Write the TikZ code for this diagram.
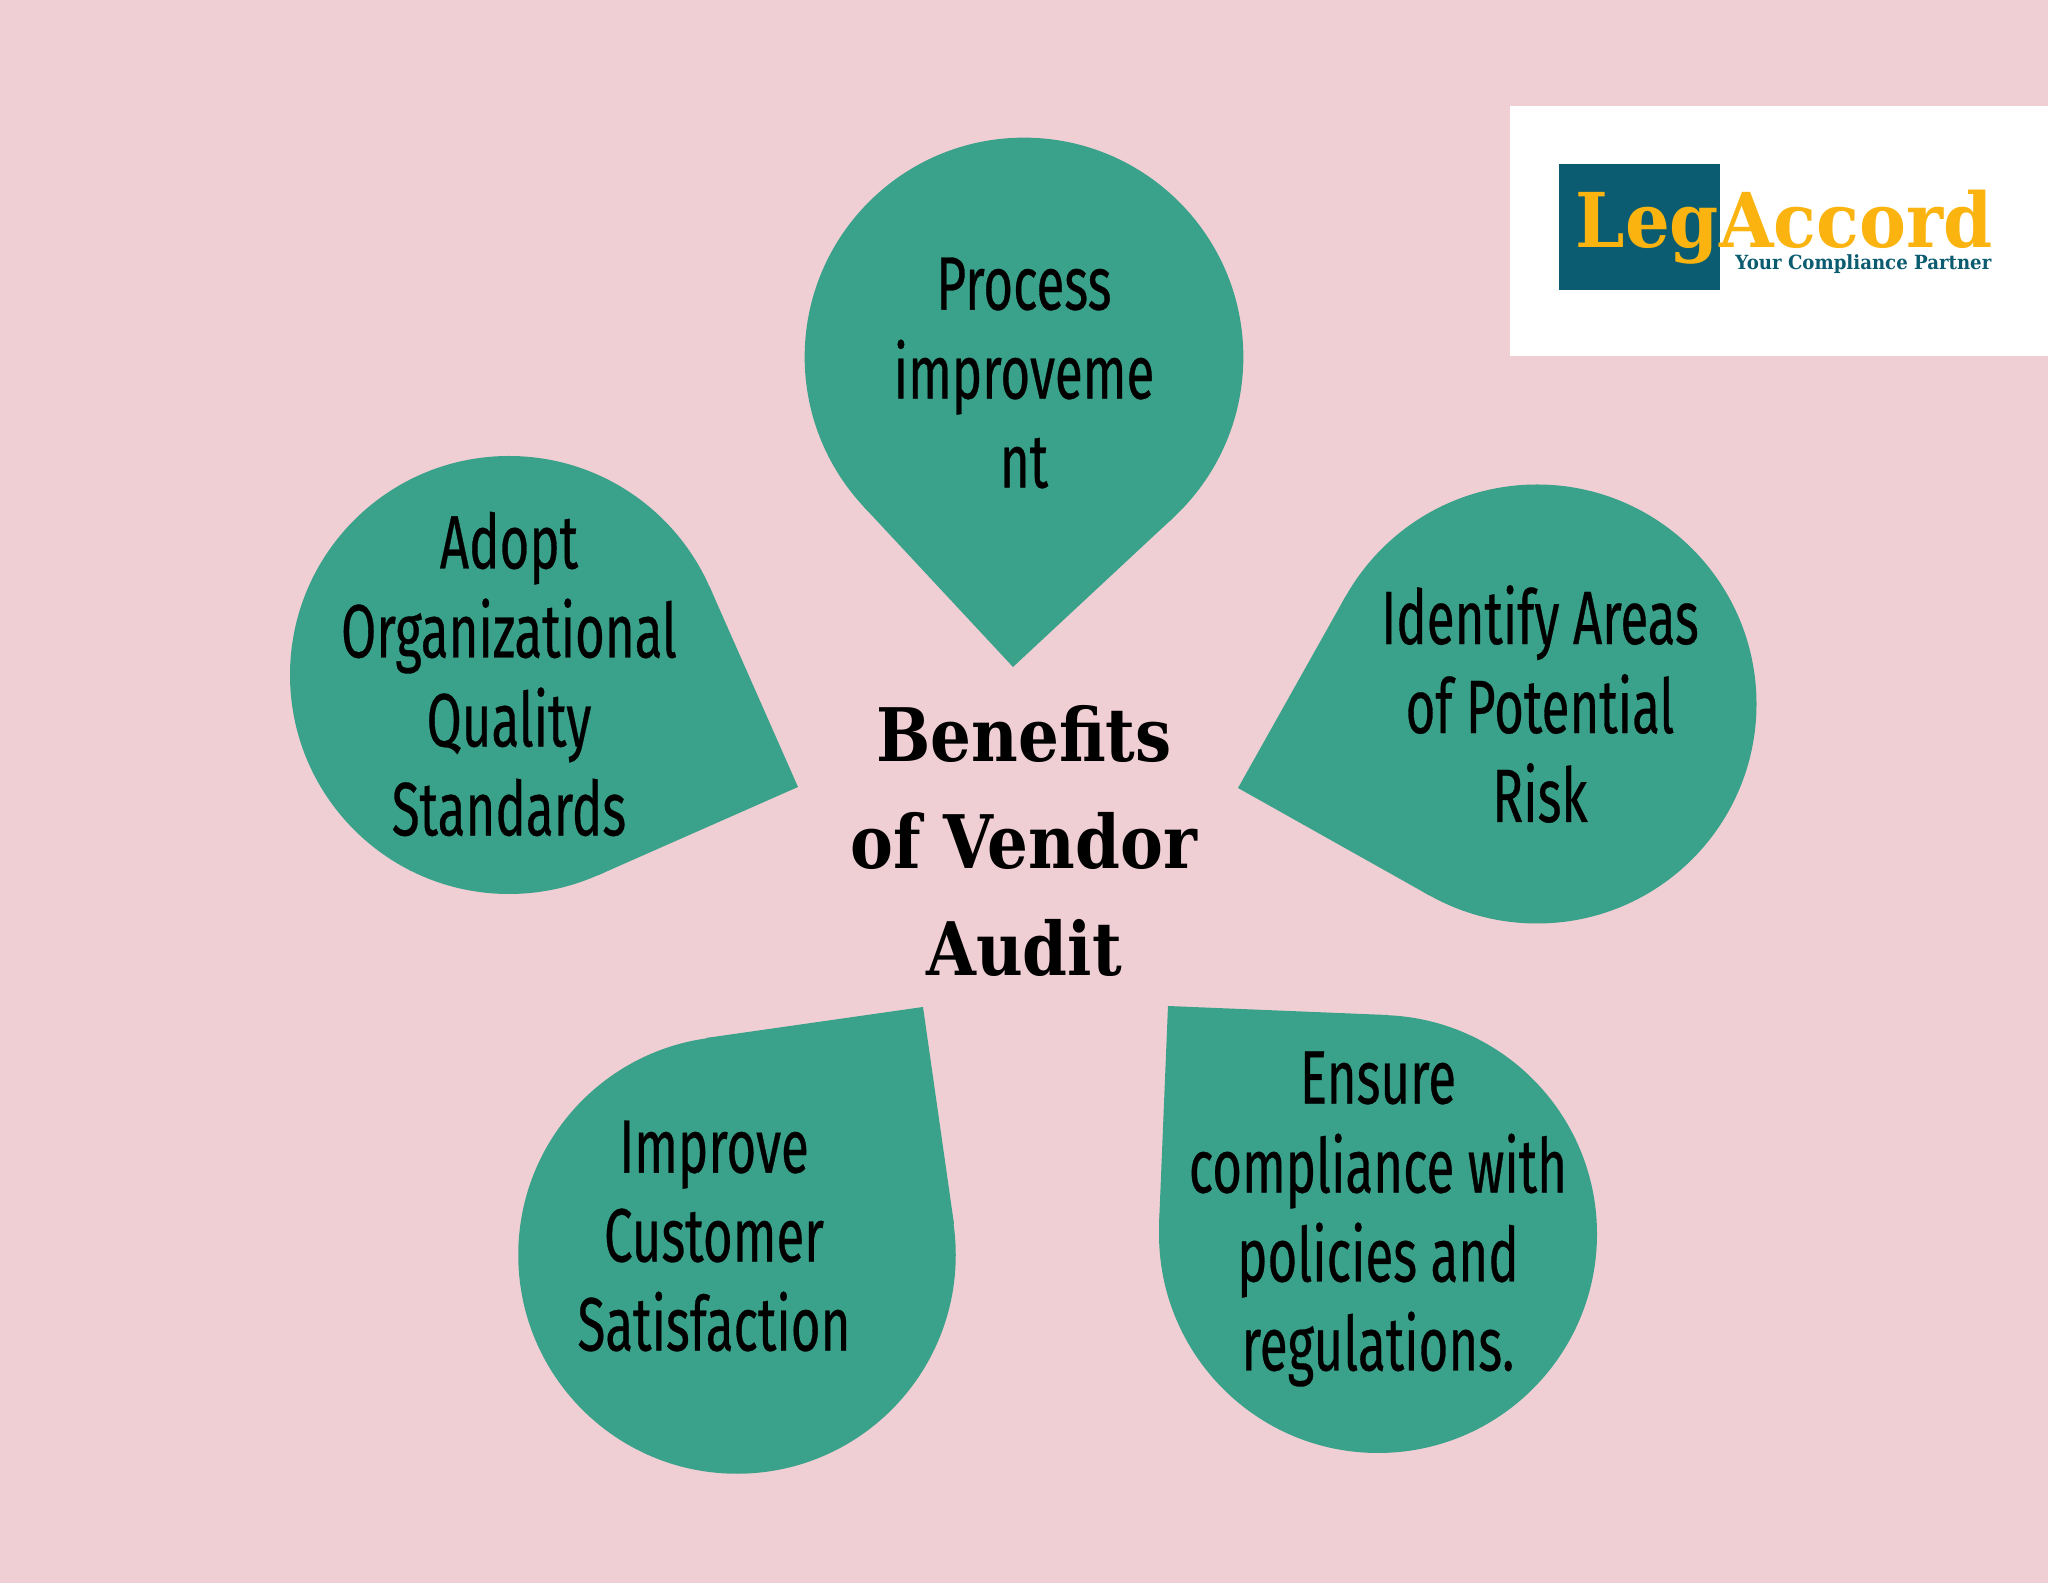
\documentclass[tikz,border=0pt]{standalone}
\usepackage{fontspec}
\setmainfont[FakeStretch=0.675,FakeBold=0.4]{Fira Sans}
\newfontfamily\titlefont[FakeStretch=0.87]{DejaVu Serif}
\newfontfamily\logofont[FakeStretch=0.93]{DejaVu Serif}
\usetikzlibrary{calc}
\definecolor{pagepink}{HTML}{F0CFD4}
\definecolor{petalgreen}{HTML}{3AA18A}
\definecolor{logoteal}{HTML}{0B5C70}
\definecolor{logogold}{HTML}{FBB40F}
\tikzset{
	petaltext/.style={align=center,inner sep=0pt,text=black,font=\fontsize{21.5}{25.3}\selectfont},
	titletext/.style={align=center,inner sep=0pt,text=black,font=\titlefont\bfseries\fontsize{21}{30.4}\selectfont}
}
\begin{document}
\begin{tikzpicture}[x=0.01cm,y=-0.01cm]
	% page
	\fill[pagepink] (0,0) rectangle (2048,1583);
	\useasboundingbox (0,0) rectangle (2048,1583);
	% petals
	\foreach \name/\cx/\cy/\tx/\ty in {top/1024/357/1013/667,left/509/675/798/787,right/1537/704/1238/788,lowright/1378/1234/1168/1006,lowleft/737/1255/923/1007}{
		\coordinate (\name c) at (\cx,\cy);
		\coordinate (\name t) at (\tx,\ty);
		\fill[petalgreen] let \p1=($(\name t)-(\name c)$),\n1={veclen(\x1,\y1)*0.70711} in (\name c) circle (\n1);
		\fill[petalgreen] (\name t) -- ($(\name c)!0.70711!45:(\name t)$) -- (\name c) -- ($(\name c)!0.70711!-45:(\name t)$) -- cycle;
	}
	\node[petaltext] (topl) at (1024,373) {Process\\improveme\\nt};
	\node[petaltext] (leftl) at (509,674) {Adopt\\Organizational\\Quality\\Standards};
	\node[petaltext] (rightl) at (1540,704) {Identify Areas\\of Potential\\Risk};
	\node[petaltext] (lowrightl) at (1378,1219) {Ensure\\compliance with\\policies and\\regulations.};
	\node[petaltext] (lowleftl) at (714,1236) {Improve\\Customer\\Satisfaction};
	% middle
	\node[titletext] (title) at (1024,841) {Benefits\\of Vendor\\Audit};
	% logo
	\fill[white] (1510,106) rectangle (2048,356);
	\fill[logoteal] (1559,164) rectangle (1720,290);
	\node[anchor=base west,inner sep=0pt,text=logogold,font=\logofont\bfseries\fontsize{21.5}{21.5}\selectfont] (logoname) at (1575,248) {LegAccord};
	\node[anchor=base east,inner sep=0pt,text=logoteal,font=\logofont\bfseries\fontsize{5.55}{5.55}\selectfont] (logotag) at (1992,270) {Your Compliance Partner};
\end{tikzpicture}
\end{document}
